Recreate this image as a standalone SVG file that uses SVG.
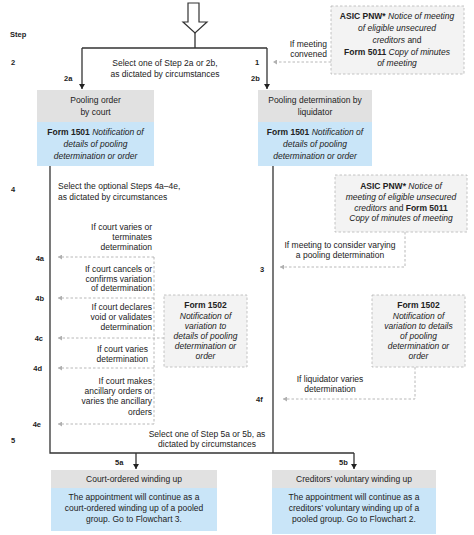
<svg xmlns="http://www.w3.org/2000/svg" width="474" height="535" viewBox="0 0 474 535">
<style>
text{font-family:"Liberation Sans",Arial,sans-serif;font-size:8.5px;fill:#222}
.b{font-weight:bold}
.i{font-style:italic}
.lbl{font-size:7.5px;font-weight:bold}
.m{text-anchor:middle}
.e{text-anchor:end}
.hd{fill:#e1e1e1}
.bl{fill:#c9e5f8}
.db{fill:#f3f3f3;stroke:#b5b5b5;stroke-width:0.8;stroke-dasharray:2.5 2}
.sl{fill:none;stroke:#333;stroke-width:1.3}
.dl{fill:none;stroke:#b0b0b0;stroke-width:0.9;stroke-dasharray:2.5 2}
</style>
<defs>
<marker id="ah" markerWidth="6" markerHeight="6" refX="5" refY="3" orient="auto" markerUnits="userSpaceOnUse"><path d="M0,0 L5,3 L0,6 Z" fill="#222"/></marker>
<marker id="dh" markerWidth="5" markerHeight="5" refX="4" refY="2.5" orient="auto" markerUnits="userSpaceOnUse"><path d="M0,0 L4,2.5 L0,5 Z" fill="#b0b0b0"/></marker>
</defs>
<rect width="474" height="535" fill="#fff"/>

<g id="step-labels">
<text class="lbl" x="10" y="37">Step</text>
<text class="lbl" x="11" y="65">2</text>
<text class="lbl" x="11" y="192">4</text>
<text class="lbl" x="11" y="443">5</text>
<text class="lbl e" x="44" y="261">4a</text>
<text class="lbl e" x="44" y="301">4b</text>
<text class="lbl e" x="43" y="341">4c</text>
<text class="lbl e" x="42" y="371">4d</text>
<text class="lbl e" x="41" y="427">4e</text>
<text class="lbl" x="255" y="65">1</text>
<text class="lbl" x="260" y="272">3</text>
<text class="lbl" x="256" y="402">4f</text>
<text class="lbl" x="64" y="81">2a</text>
<text class="lbl" x="251" y="81">2b</text>
<text class="lbl" x="115" y="465">5a</text>
<text class="lbl" x="339" y="465">5b</text>
</g>

<g id="connectors">
<polygon points="188,3 199,3 199,22 207,22 195,33 183,22 188,22" fill="#fff" stroke="#333" stroke-width="1.2"/>
<path class="sl" d="M195,33 V48 M82,48 H267"/>
<path class="sl" d="M82,48 V89" marker-end="url(#ah)"/>
<path class="sl" d="M267,48 V89" marker-end="url(#ah)"/>
<path class="sl" d="M50,166 V453 H354 M273,166 V453"/>
<path class="sl" d="M136,453 V469" marker-end="url(#ah)"/>
<path class="sl" d="M354,453 V469" marker-end="url(#ah)"/>
<path class="dl" d="M331,62 H273" marker-end="url(#dh)"/>
<path class="dl" d="M154,257 V424"/>
<path class="dl" d="M154,257 H58" marker-end="url(#dh)"/>
<path class="dl" d="M154,298 H58" marker-end="url(#dh)"/>
<path class="dl" d="M164,338 H58" marker-end="url(#dh)"/>
<path class="dl" d="M154,368 H58" marker-end="url(#dh)"/>
<path class="dl" d="M154,424 H58" marker-end="url(#dh)"/>
<path class="dl" d="M405,232 V267 H280" marker-end="url(#dh)"/>
<path class="dl" d="M415,367 V399 H283" marker-end="url(#dh)"/>
<text class="m" x="165" y="66">Select one of Step 2a or 2b,</text>
<text class="m" x="165" y="77">as dictated by circumstances</text>
<text class="e" x="327" y="47">If meeting</text>
<text class="e" x="327" y="57">convened</text>
<text x="58" y="189">Select the optional Steps 4a–4e,</text>
<text x="58" y="200">as dictated by circumstances</text>
<text class="e" x="152" y="230">If court varies or</text>
<text class="e" x="152" y="240">terminates</text>
<text class="e" x="152" y="250">determination</text>
<text class="e" x="152" y="272">If court cancels or</text>
<text class="e" x="152" y="281.5">confirms variation</text>
<text class="e" x="152" y="291">of determination</text>
<text class="e" x="152" y="310">If court declares</text>
<text class="e" x="152" y="320">void or validates</text>
<text class="e" x="152" y="330">determination</text>
<text class="e" x="148" y="352">If court varies</text>
<text class="e" x="148" y="362">determination</text>
<text class="e" x="152" y="384">If court makes</text>
<text class="e" x="152" y="394">ancillary orders or</text>
<text class="e" x="152" y="404">varies the ancillary</text>
<text class="e" x="152" y="415">orders</text>
<text class="m" x="340" y="248">If meeting to consider varying</text>
<text class="m" x="340" y="258">a pooling determination</text>
<text class="m" x="330" y="382">If liquidator varies</text>
<text class="m" x="330" y="392">determination</text>
<text class="m" x="207" y="437">Select one of Step 5a or 5b, as</text>
<text class="m" x="207" y="447">dictated by circumstances</text>
</g>

<g id="asic-top">
<rect class="db" x="331" y="6" width="133" height="68"/>
<text class="m" x="397" y="19"><tspan class="b">ASIC PNW*</tspan> <tspan class="i">Notice of meeting</tspan></text>
<text class="m i" x="397" y="31">of eligible unsecured</text>
<text class="m" x="397" y="42.5"><tspan class="i">creditors</tspan> and</text>
<text class="m" x="397" y="54.5"><tspan class="b">Form 5011</tspan> <tspan class="i">Copy of minutes</tspan></text>
<text class="m i" x="397" y="66">of meeting</text>
</g>

<g id="pooling-order">
<rect class="hd" x="37" y="90" width="117" height="32"/>
<rect class="bl" x="37" y="122" width="117" height="44"/>
<text class="m" x="95.5" y="103">Pooling order</text>
<text class="m" x="95.5" y="115">by court</text>
<text class="m" x="95.5" y="135"><tspan class="b">Form 1501</tspan> <tspan class="i">Notification of</tspan></text>
<text class="m i" x="95.5" y="147">details of pooling</text>
<text class="m i" x="95.5" y="159">determination or order</text>
</g>

<g id="pooling-determination">
<rect class="hd" x="258" y="90" width="114" height="32"/>
<rect class="bl" x="258" y="122" width="114" height="44"/>
<text class="m" x="315" y="103">Pooling determination by</text>
<text class="m" x="315" y="115">liquidator</text>
<text class="m" x="315" y="135"><tspan class="b">Form 1501</tspan> <tspan class="i">Notification of</tspan></text>
<text class="m i" x="315" y="147">details of pooling</text>
<text class="m i" x="315" y="159">determination or order</text>
</g>

<g id="asic-mid">
<rect class="db" x="335" y="175" width="132" height="57"/>
<text class="m" x="401" y="189"><tspan class="b">ASIC PNW*</tspan> <tspan class="i">Notice of</tspan></text>
<text class="m i" x="401" y="200">meeting of eligible unsecured</text>
<text class="m" x="401" y="211"><tspan class="i">creditors</tspan> and <tspan class="b">Form 5011</tspan></text>
<text class="m i" x="401" y="221">Copy of minutes of meeting</text>
</g>

<g id="form1502-left">
<rect class="db" x="164" y="295" width="83" height="72"/>
<text class="m b" x="205.5" y="308">Form 1502</text>
<text class="m i" x="205.5" y="318.5">Notification of</text>
<text class="m i" x="205.5" y="328.5">variation to</text>
<text class="m i" x="205.5" y="339">details of pooling</text>
<text class="m i" x="205.5" y="349">determination or</text>
<text class="m i" x="205.5" y="359">order</text>
</g>

<g id="form1502-right">
<rect class="db" x="372" y="295" width="93" height="72"/>
<text class="m b" x="418.5" y="308">Form 1502</text>
<text class="m i" x="418.5" y="318.5">Notification of</text>
<text class="m i" x="418.5" y="328.5">variation to details</text>
<text class="m i" x="418.5" y="339">of pooling</text>
<text class="m i" x="418.5" y="349">determination or</text>
<text class="m i" x="418.5" y="359">order</text>
</g>

<g id="court-winding-up">
<rect class="hd" x="51" y="470" width="166" height="18"/>
<rect class="bl" x="51" y="488" width="166" height="43"/>
<text class="m" x="134" y="482">Court-ordered winding up</text>
<text class="m" x="134" y="500">The appointment will continue as a</text>
<text class="m" x="134" y="511">court-ordered winding up of a pooled</text>
<text class="m" x="134" y="522">group. Go to Flowchart 3.</text>
</g>

<g id="cvl-winding-up">
<rect class="hd" x="272" y="470" width="164" height="18"/>
<rect class="bl" x="272" y="488" width="164" height="46"/>
<text class="m" x="354" y="482">Creditors’ voluntary winding up</text>
<text class="m" x="354" y="500">The appointment will continue as a</text>
<text class="m" x="354" y="511">creditors’ voluntary winding up of a</text>
<text class="m" x="354" y="522">pooled group. Go to Flowchart 2.</text>
</g>
</svg>
